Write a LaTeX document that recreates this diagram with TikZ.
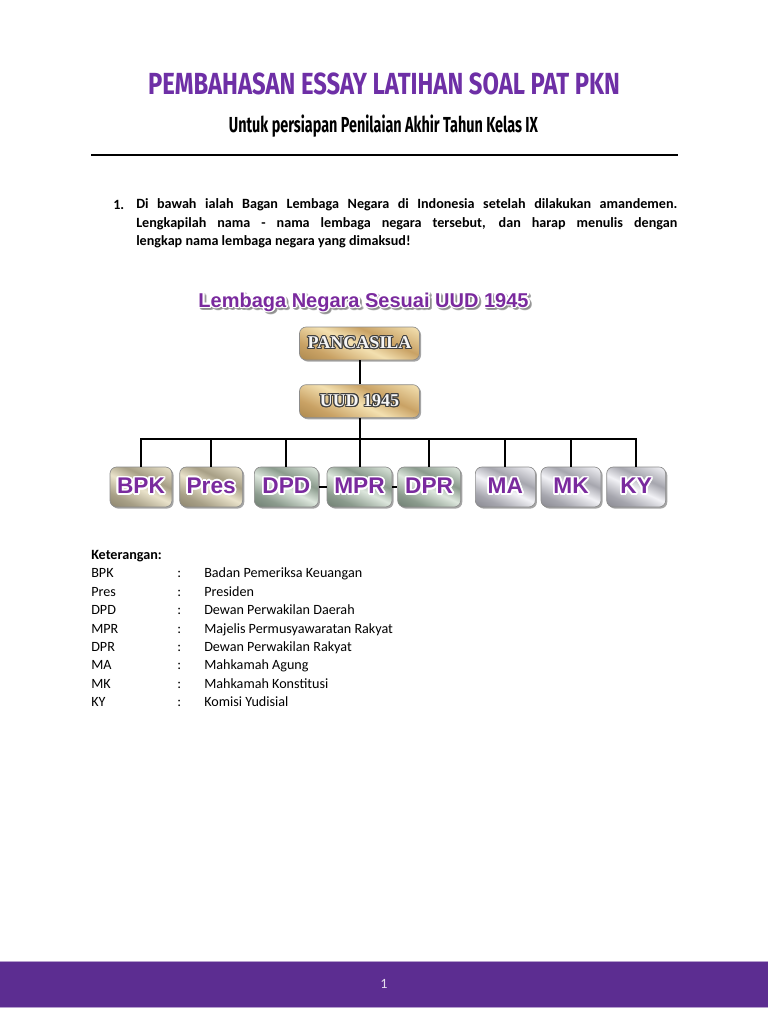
\documentclass[tikz,border=0pt]{standalone}
\usepackage{fontspec}
\setmainfont{Carlito}
\newfontfamily\headfont{Fira Sans}
\newfontfamily\chartfont{Liberation Sans}
\newfontfamily\engfont{Liberation Serif}
\usepackage{graphicx}
\usepackage{contour}
\contourlength{1.4pt}
\contournumber{12}
\usetikzlibrary{positioning,shadows}

\definecolor{pkpurple}{HTML}{6E2FA6}
\definecolor{bandpurple}{HTML}{5C2D91}
\definecolor{labpurple}{HTML}{7A2A9E}
% metal tones
\definecolor{goA}{HTML}{8A6A32}
\definecolor{goB}{HTML}{C9A265}
\definecolor{goC}{HTML}{F3E0B0}
\definecolor{khA}{HTML}{6C644E}
\definecolor{khB}{HTML}{A79F86}
\definecolor{khC}{HTML}{EAE3CB}
\definecolor{grA}{HTML}{4C5C50}
\definecolor{grB}{HTML}{8B9B8D}
\definecolor{grC}{HTML}{DDE7DD}
\definecolor{siA}{HTML}{64646C}
\definecolor{siB}{HTML}{A6A6AE}
\definecolor{siC}{HTML}{F2F2F6}

\pgfdeclarehorizontalshading{goldmetal}{100bp}{color(0bp)=(goA); color(30bp)=(goB); color(48bp)=(goC); color(62bp)=(goB); color(82bp)=(goC); color(100bp)=(goA)}
\pgfdeclarehorizontalshading{khakimetal}{100bp}{color(0bp)=(khA); color(30bp)=(khB); color(48bp)=(khC); color(62bp)=(khB); color(82bp)=(khC); color(100bp)=(khA)}
\pgfdeclarehorizontalshading{greenmetal}{100bp}{color(0bp)=(grA); color(30bp)=(grB); color(48bp)=(grC); color(62bp)=(grB); color(82bp)=(grC); color(100bp)=(grA)}
\pgfdeclarehorizontalshading{silvermetal}{100bp}{color(0bp)=(siA); color(30bp)=(siB); color(48bp)=(siC); color(62bp)=(siB); color(82bp)=(siC); color(100bp)=(siA)}

\newcommand{\bodysize}{\fontsize{10.6}{13.9}\selectfont}
\newcommand{\boxlab}[1]{\contour{white}{\textcolor{labpurple}{#1}}}
\newcommand{\engr}[1]{{\contourlength{0.8pt}\contour{black!75}{\textcolor{white!92!gray}{#1}}}}

\tikzset{
  metal/.style={rectangle, rounded corners=5pt, draw=black!45, line width=0.5pt,
                shade, shading=#1, shading angle=65, inner sep=0pt,
                drop shadow={shadow xshift=1.2pt, shadow yshift=-1.2pt, opacity=0.35, fill=black}},
  topbox/.style={metal=goldmetal, minimum width=90pt, minimum height=24.75pt,
                 font=\engfont\bfseries\fontsize{13.5}{13.5}\selectfont},
  lbox/.style={metal=#1, minimum height=30pt,
               font=\chartfont\bfseries\fontsize{17}{17}\selectfont},
  wire/.style={line width=1.5pt, black},
  ketrow/.style={anchor=base west, inner sep=0pt, font=\bodysize}
}

\begin{document}
\begin{tikzpicture}[x=0.75pt,y=-0.75pt]
\useasboundingbox (0,0) rectangle (768,1024);
\fill[white] (0,0) rectangle (768,1024);

% header
\node[anchor=base, inner sep=0pt, text=pkpurple] (title) at (384,95)
  {\resizebox{354pt}{\height}{\headfont\bfseries\fontsize{22.9}{22.9}\selectfont PEMBAHASAN ESSAY LATIHAN SOAL PAT PKN}};
\node[anchor=base, inner sep=0pt] (subtitle) at (383.5,132.7)
  {\resizebox{231.75pt}{\height}{\headfont\bfseries\fontsize{16.3}{16.3}\selectfont Untuk persiapan Penilaian Akhir Tahun Kelas IX}};
\draw[line width=1.5pt] (91,155) -- (678,155);

% question
\node[anchor=north west, inner sep=0pt, text width=405.75pt, align=justify, font=\bodysize\bfseries] (qtext) at (136,198.5)
  {Di bawah ialah Bagan Lembaga Negara di Indonesia setelah dilakukan amandemen.\linebreak
   Lengkapilah nama - nama lembaga negara tersebut, dan harap menulis dengan\linebreak
   lengkap nama lembaga negara yang dimaksud!};
\node[anchor=base west, inner sep=0pt, font=\bodysize\bfseries] (qnum) at (113,209) {1.};

% chart title
\node[anchor=base, inner sep=0pt, opacity=0.45] (chtshadow) at (365.5,309)
  {\chartfont\bfseries\fontsize{15}{15}\selectfont\contour{black!45}{\textcolor{black!45}{Lembaga Negara Sesuai UUD 1945}}};
\node[anchor=base, inner sep=0pt] (chtitle) at (363.5,307)
  {\chartfont\bfseries\fontsize{15}{15}\selectfont\boxlab{Lembaga Negara Sesuai UUD 1945}};

% lembaga row
\node[lbox=khakimetal, minimum width=46.5pt] (bpk) at (141,487) {\boxlab{BPK}};
\node[lbox=khakimetal, minimum width=47.25pt, right=5.25pt of bpk] (pres) {\boxlab{Pres}};
\node[lbox=greenmetal, minimum width=48pt, right=8.25pt of pres] (dpd) {\boxlab{DPD}};
\node[lbox=greenmetal, minimum width=48.75pt, right=6pt of dpd] (mpr) {\boxlab{MPR}};
\node[lbox=greenmetal, minimum width=47.25pt, right=3.75pt of mpr] (dpr) {\boxlab{DPR}};
\node[lbox=silvermetal, minimum width=45pt, right=10.5pt of dpr] (ma) {\boxlab{MA}};
\node[lbox=silvermetal, minimum width=45pt, right=3.75pt of ma] (mk) {\boxlab{MK}};
\node[lbox=silvermetal, minimum width=44.25pt, right=3.75pt of mk] (ky) {\boxlab{KY}};

% top boxes
\coordinate (pcy) at (0,343.5);
\node[topbox] (pancasila) at (mpr |- pcy) {\engr{PANCASILA}};
\node[topbox, below=18pt of pancasila] (uud) {\engr{UUD 1945}};

% connectors
\coordinate (busy) at (0,439);
\coordinate (bus) at (uud.south |- busy);
\draw[wire] (pancasila.south) -- (uud.north);
\draw[wire] (uud.south) -- (mpr.north);
\foreach \n in {bpk,pres,dpd,dpr,ma,mk,ky}
  \draw[wire] (bus) -| (\n.north);
\draw[wire] (dpd.east) -- (mpr.west);
\draw[wire] (mpr.east) -- (dpr.west);

% keterangan
\node[ketrow, font=\bodysize\bfseries] (ket) at (91,559.5) {Keterangan:};
\foreach \ab/\full [count=\i] in {BPK/Badan Pemeriksa Keuangan, Pres/Presiden,
    DPD/Dewan Perwakilan Daerah, MPR/Majelis Permusyawaratan Rakyat,
    DPR/Dewan Perwakilan Rakyat, MA/Mahkamah Agung,
    MK/Mahkamah Konstitusi, KY/Komisi Yudisial}
{
  \node[ketrow] (ab\i) at (91,{559.5+18.4*\i}) {\ab};
  \node[ketrow] (colon\i) at (177,{559.5+18.4*\i}) {:};
  \node[ketrow] (full\i) at (204,{559.5+18.4*\i}) {\full};
}

% footer
\fill[bandpurple] (0,961) rectangle (768,1007);
\draw[line width=0.75pt, bandpurple!45!white] (0,961) -- (768,961);
\draw[line width=0.75pt, bandpurple!45!white] (0,1007) -- (768,1007);
\node[text=white!85!bandpurple, font=\bodysize] (pgnum) at (384,984) {1};
\end{tikzpicture}
\end{document}
